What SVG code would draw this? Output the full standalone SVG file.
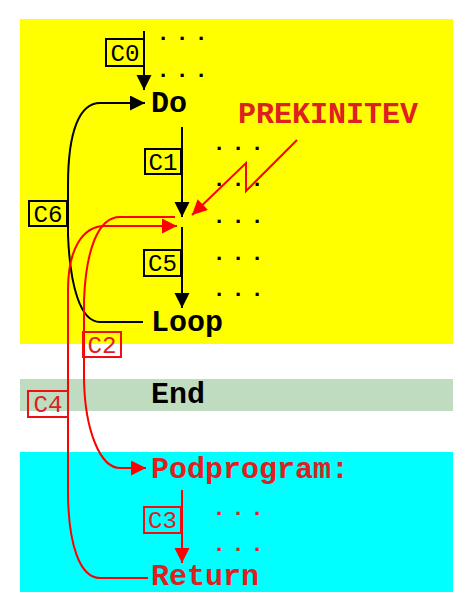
<svg xmlns="http://www.w3.org/2000/svg" width="474" height="616" viewBox="0 0 474 616">
<style>
.code{font-family:"Liberation Mono","Courier New",monospace;font-weight:bold;font-size:30px}
.dots{font-family:"Liberation Mono","Courier New",monospace;font-weight:bold;font-size:22px;letter-spacing:5.8px}
.blk{fill:#000}
.red{fill:#DD2020}
.lbl{font-family:"Liberation Mono","Courier New",monospace;font-size:24px;text-anchor:middle}
.boxb{fill:none;stroke:#000;stroke-width:2}
.boxr{fill:none;stroke:#EE1010;stroke-width:2}
.lb{fill:none;stroke:#000;stroke-width:2}
.lr{fill:none;stroke:#FF0000;stroke-width:2}
</style>
<defs>
<marker id="ab" markerUnits="userSpaceOnUse" markerWidth="16" markerHeight="16" refX="15" refY="7.5" orient="auto"><path d="M0,0 L15,7.5 L0,15 z" fill="#000"/></marker>
<marker id="ar" markerUnits="userSpaceOnUse" markerWidth="16" markerHeight="16" refX="15" refY="7.5" orient="auto"><path d="M0,0 L15,7.5 L0,15 z" fill="#FF0000"/></marker>
</defs>
<g id="backgrounds">
<rect x="20" y="19" width="433" height="325" fill="#FFFF00"/>
<rect x="20" y="379" width="433" height="32" fill="#C0DCC0"/>
<rect x="20" y="452" width="433" height="140" fill="#00FFFF"/>
</g>
<g id="connectors">
<path class="lb" d="M144,31 V90" marker-end="url(#ab)"/>
<path class="lb" d="M182,127 V217" marker-end="url(#ab)"/>
<path class="lb" d="M182,227 V308" marker-end="url(#ab)"/>
<path class="lb" d="M143,322 H100 C80,322 70,285 68,235 L68,185 C68,130 80,103 100,103 H145" marker-end="url(#ab)"/>
<path class="lr" d="M297,140 L246,191 L246,163 L192,215" marker-end="url(#ar)"/>
<path class="lr" d="M175,217 H120 C98,217 86,250 84,300 L84,380 C85,430 100,468 120,468 H146" marker-end="url(#ar)"/>
<path class="lr" d="M148,578 H100 C80,578 68,545 68,490 V290 C68,250 82,226 105,226 H177" marker-end="url(#ar)"/>
<path class="lr" d="M182,490 V563" marker-end="url(#ar)"/>
</g>
<g id="label-C0"><rect class="boxb" x="106" y="39" width="38" height="27"/><text class="lbl blk" x="125" y="61" textLength="29" lengthAdjust="spacingAndGlyphs">C0</text></g>
<g id="label-C1"><rect class="boxb" x="145" y="149" width="36" height="25"/><text class="lbl blk" x="163" y="170" textLength="29" lengthAdjust="spacingAndGlyphs">C1</text></g>
<g id="label-C5"><rect class="boxb" x="144" y="250" width="37" height="26"/><text class="lbl blk" x="162.5" y="271" textLength="29" lengthAdjust="spacingAndGlyphs">C5</text></g>
<g id="label-C6"><rect class="boxb" x="29" y="201" width="38" height="25"/><text class="lbl blk" x="48" y="222" textLength="29" lengthAdjust="spacingAndGlyphs">C6</text></g>
<g id="label-C2"><rect class="boxr" x="83" y="332" width="38" height="25"/><text class="lbl red" x="102" y="353" textLength="29" lengthAdjust="spacingAndGlyphs">C2</text></g>
<g id="label-C4"><rect class="boxr" x="28" y="391" width="40" height="26"/><text class="lbl red" x="48" y="412" textLength="29" lengthAdjust="spacingAndGlyphs">C4</text></g>
<g id="label-C3"><rect class="boxr" x="144" y="507" width="37" height="26"/><text class="lbl red" x="162.5" y="528" textLength="29" lengthAdjust="spacingAndGlyphs">C3</text></g>
<g id="node-Do"><text class="code blk" x="151" y="112">Do</text></g>
<g id="node-Loop"><text class="code blk" x="151" y="331">Loop</text></g>
<g id="node-End"><text class="code blk" x="151" y="403">End</text></g>
<g id="node-Podprogram"><text class="code red" x="151" y="478">Podprogram:</text></g>
<g id="node-Return"><text class="code red" x="151" y="585">Return</text></g>
<g id="node-PREKINITEV"><text class="code red" x="238" y="123">PREKINITEV</text></g>
<g id="dots">
<text class="dots blk" x="156.4" y="39.5">...</text>
<text class="dots blk" x="156.4" y="76.5">...</text>
<text class="dots blk" x="212.4" y="149.5">...</text>
<text class="dots blk" x="212.4" y="185.5">...</text>
<text class="dots blk" x="212.4" y="222.5">...</text>
<text class="dots blk" x="212.4" y="259.5">...</text>
<text class="dots blk" x="212.4" y="295.5">...</text>
<text class="dots red" x="212.4" y="514.5">...</text>
<text class="dots red" x="212.4" y="550.5">...</text>
</g>
</svg>
